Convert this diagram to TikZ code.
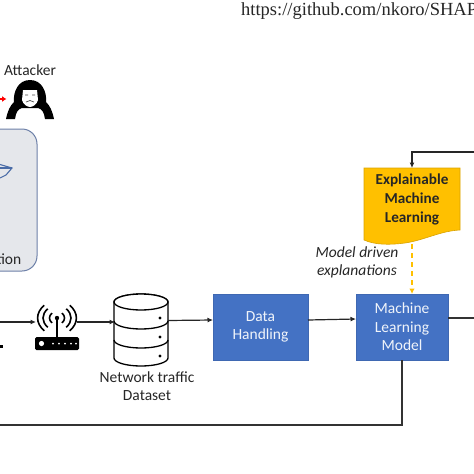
\documentclass[tikz,border=0pt]{standalone}
\usepackage{fontspec}
\setmainfont{Carlito}
\newfontfamily\urlfont{Liberation Serif}
\usetikzlibrary{arrows.meta,shapes.symbols,shapes.geometric}
\definecolor{boxblue}{HTML}{4472C4}
\definecolor{boxedge}{HTML}{3F68B2}
\definecolor{docgold}{HTML}{FFC000}
\definecolor{docedge}{HTML}{D9A300}
\definecolor{panelfill}{HTML}{E5E7EB}
\definecolor{paneledge}{HTML}{6D80A8}
\definecolor{txt}{HTML}{262626}
\tikzset{
  conn/.style={draw=black!85,line width=1.2pt,-{Latex[length=5.5pt,width=5pt]}},
  plainconn/.style={draw=black!80,line width=1.4pt},
  bluebox/.style={draw=boxedge,fill=boxblue,text=white!92!boxblue,minimum height=66pt,inner sep=0pt,align=center,font=\fontsize{15.5}{18.6}\selectfont},
  label/.style={text=txt,inner sep=0pt,align=center,font=\fontsize{15.5}{18.6}\selectfont},
  dot/.style={circle,fill=black,inner sep=0pt,minimum size=3.4pt},
  icon/.style={black,line width=1.6pt},
}
\begin{document}
\begin{tikzpicture}[x=1pt,y=-1pt]
\useasboundingbox (0,0) rectangle (474,474);
\clip (0,0) rectangle (474,474);
% url
\node[anchor=base west,inner sep=0pt,font=\urlfont\fontsize{18.5}{20}\selectfont,text=black!85] (url) at (241,15) {https://github.com/nkoro/SHAP};
% panel
\draw[draw=paneledge,fill=panelfill,line width=1pt,rounded corners=15pt] (-40,129) rectangle (37,271);
\node[anchor=base east,label] (tion) at (21.5,264) {tion};
\draw[draw=boxblue!80!black!90,line width=1.1pt] (0,164.5) -- (12,168) -- (6,175) -- (0,178);
\draw[draw=boxblue!80!black!90,line width=1.1pt] (0,168) -- (12,168);
% attacker
\node[label] (attacker) at (30,70) {Attacker};
\fill[black] (6,119) .. controls (8,110) and (10,106) .. (14,102) .. controls (13,92) and (18,80) .. (30,80)
  .. controls (42,80) and (47,92) .. (46,102) .. controls (50,106) and (52,110) .. (54,119)
  -- (45,119) .. controls (44,112) and (42,109) .. (38,108) -- (22,108) .. controls (18,109) and (16,112) .. (15,119) -- cycle;
\fill[white] (23,90) -- (37,90) -- (38,100) .. controls (37,104) and (33,107) .. (30,107) .. controls (27,107) and (23,104) .. (22,100) -- cycle;
\draw[black!70,line width=0.7pt] (25,95) -- (28,95) (32,95) -- (35,95) (26,102) -- (30,100.5) -- (34,102);
\coordinate (atk) at (0,99);
\coordinate (atkend) at (6.5,99);
\draw[red,line width=1.6pt,-{Latex[length=4.5pt,width=6pt]}] (atk) -- (atkend);
% router
\coordinate (routerin) at (0,322);
\fill[black,rounded corners=1.5pt] (35,337) rectangle (79,350);
\fill[white] (41.5,343.5) circle (2.6);
\foreach \px in {53,59,65,71,76}{\fill[white] (\px,343.5) circle (1);}
\draw[black,line width=1.6pt] (57,319) -- (57,337);
\fill[black] (57,318) circle (2.2);
\foreach \r in {7,13,18}{
  \draw[icon] ({57-0.707*\r},{318-0.707*\r}) .. controls ({57-1.2*\r},{318-0.3*\r}) and ({57-1.2*\r},{318+0.3*\r}) .. ({57-0.707*\r},{318+0.707*\r});
  \draw[icon] ({57+0.707*\r},{318-0.707*\r}) .. controls ({57+1.2*\r},{318-0.3*\r}) and ({57+1.2*\r},{318+0.3*\r}) .. ({57+0.707*\r},{318+0.707*\r});
}
\fill[black] (0,344.5) rectangle (2.5,348);
% cylinder
\draw[black,line width=1.3pt,fill=white] (114,302) arc[start angle=180,end angle=360,x radius=27,y radius=8] -- (168,358) arc[start angle=0,end angle=-180,x radius=27,y radius=-8] -- cycle;
\draw[black,line width=1.3pt,fill=white] (141,302) ellipse[x radius=27,y radius=8];
\draw[black,line width=1.3pt] (114,321) arc[start angle=180,end angle=360,x radius=27,y radius=-8];
\draw[black,line width=1.3pt] (114,340) arc[start angle=180,end angle=360,x radius=27,y radius=-8];
\node[dot] (d1) at (160,318) {};
\node[dot] (d2) at (160,337) {};
\node[dot] (d3) at (160,356) {};
\coordinate (dbw) at (115,322);
\coordinate (dbe) at (168,320.5);
\node[label] (db) at (147,386) {Network traffic\\Dataset};
% boxes
\node[bluebox,minimum width=95pt] (dh) at (260.5,327) {Data\\Handling};
\node[bluebox,minimum width=92pt] (ml) at (402,327) {Machine\\Learning\\Model};
% doc
\draw[draw=docedge,fill=docgold,line width=0.6pt] (364,168) -- (460,168) -- (460,230) .. controls (440,231) and (425,240) .. (405,243) .. controls (390,245) and (375,245) .. (364,240) -- cycle;
\node[text=txt,inner sep=0pt,align=center,font=\fontsize{15.2}{18.6}\selectfont\bfseries] (doct) at (412,199.5) {Explainable\\Machine\\Learning};
\coordinate (docin) at (412,168);
\coordinate (docout) at (412,244);
\coordinate (topright) at (474,152);
\draw[conn] (topright) -- (412,152) -- (docin);
\node[label,font=\fontsize{15.5}{18.6}\selectfont\itshape] (mde) at (357,262.5) {Model driven\\explanations};
\coordinate (mltop) at (412,294);
\draw[draw=docgold,line width=1.5pt,dash pattern=on 5pt off 4pt,-{Latex[length=5.5pt,width=5.5pt]}] (docout) -- (mltop);
% connectors
\coordinate (routerinend) at (36,322);
\coordinate (routerout) at (77,322);
\coordinate (dhin) at (213,320);
\coordinate (dhout) at (308,320);
\coordinate (mlin) at (356,319);
\draw[conn] (routerin) -- (routerinend);
\draw[conn] (routerout) -- (dbw);
\draw[conn] (dbe) -- (dhin);
\draw[conn] (dhout) -- (mlin);
\coordinate (mlr) at (474,318);
\draw[plainconn] (ml.east |- mlr) -- (mlr);
\coordinate (botl) at (0,425);
\draw[plainconn] (ml.south) -- (402,425) -- (botl);
\end{tikzpicture}
\end{document}
